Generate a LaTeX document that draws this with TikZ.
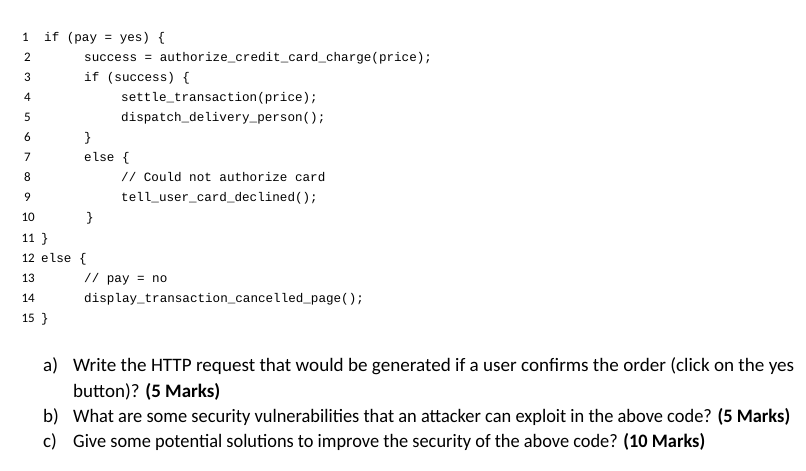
\documentclass[tikz,border=0pt]{standalone}
\usepackage{fontspec}
\usepackage{graphicx}
\setmainfont{Carlito}
\newfontfamily\codefont{Liberation Mono}
\begin{document}
\begin{tikzpicture}[x=1pt,y=-1pt,
  code/.style={anchor=base west,inner sep=0pt,font=\codefont\fontsize{12.6}{14}\selectfont},
  num/.style={anchor=base east,inner sep=0pt,font=\fontsize{13}{15}\selectfont},
  qtext/.style={anchor=base west,inner sep=0pt,font=\fontsize{19}{22}\selectfont}]
\useasboundingbox (0,0) rectangle (806,471);
\def\L#1#2#3#4{\node[num] (n#1) at (#2,{41+20.1*(#1-1)}) {#1};
  \node[code] (c#1) at (#3,{41+20.1*(#1-1)}) {#4};}
\L{1}{29}{44}{if (pay = yes) \{}
\L{2}{31}{84}{success = authorize\_credit\_card\_charge(price);}
\L{3}{31}{84}{if (success) \{}
\L{4}{31}{121}{settle\_transaction(price);}
\L{5}{31}{121}{dispatch\_delivery\_person();}
\L{6}{31}{84}{\}}
\L{7}{31}{84}{else \{}
\L{8}{31}{121}{// Could not authorize card}
\L{9}{31}{121}{tell\_user\_card\_declined();}
\L{10}{35}{86}{\}}
\L{11}{35}{41}{\}}
\L{12}{35}{41}{else \{}
\L{13}{35}{84}{// pay = no}
\L{14}{35}{84}{display\_transaction\_cancelled\_page();}
\L{15}{35}{41}{\}}
\node[qtext] (qa) at (43,371) {a)};
\node[qtext] (ta) at (73,371) {\resizebox{721pt}{\height}{Write the HTTP request that would be generated if a user confirms the order (click on the yes}};
\node[qtext] (ta2) at (73,397) {button)? \textbf{(5 Marks)}};
\node[qtext] (qb) at (43,422) {b)};
\node[qtext] (tb) at (73,422) {\resizebox{717pt}{\height}{What are some security vulnerabilities that an attacker can exploit in the above code? \textbf{(5 Marks)}}};
\node[qtext] (qc) at (43,447) {c)};
\node[qtext] (tc) at (73,447) {\resizebox{632pt}{\height}{Give some potential solutions to improve the security of the above code? \textbf{(10 Marks)}}};
\end{tikzpicture}
\end{document}
